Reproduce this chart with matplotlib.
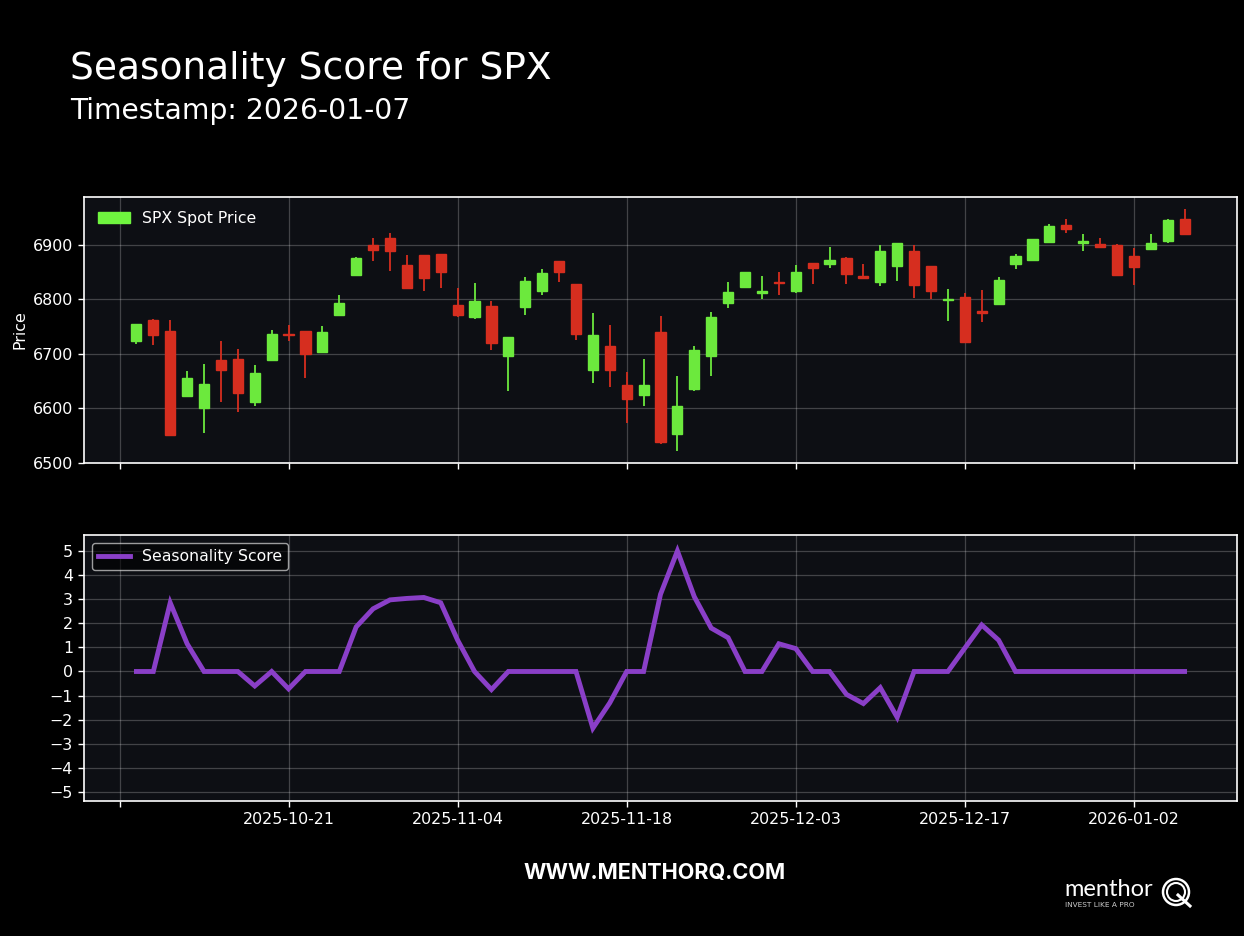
#!/usr/bin/env python
import numpy as np
from matplotlib import pyplot as plt
from matplotlib.lines import Line2D
from matplotlib.patches import Circle

opens = [6722.6, 6761.6, 6741, 6622, 6601, 6689, 6690, 6611.6, 6689, 6737,
         6742, 6702.5, 6771, 6844.5, 6899, 6912, 6861.6, 6880, 6882, 6790,
         6768, 6788, 6695, 6785, 6815, 6869, 6827.4, 6671, 6714, 6642,
         6624, 6739, 6554, 6636, 6696, 6793, 6822, 6811.6, 6830.5, 6815,
         6867, 6865, 6875.6, 6842, 6832, 6861, 6888, 6861, 6798.8, 6803.6,
         6778, 6792, 6864, 6872, 6904, 6936.6, 6902, 6900.6, 6899, 6879,
         6891.5, 6907, 6946]
closes = [6755, 6734.8, 6552, 6655.5, 6644.5, 6669.5, 6628, 6665, 6736, 6735,
          6699, 6739, 6792.7, 6875.6, 6890, 6889, 6821, 6839, 6850.6, 6771,
          6797, 6719.5, 6730, 6833.5, 6847, 6850, 6736.6, 6735, 6671, 6617,
          6643, 6538, 6604, 6706, 6767, 6813.4, 6849, 6814, 6829, 6850,
          6857, 6871, 6846, 6839, 6888, 6902, 6826, 6815, 6801, 6721,
          6775, 6835, 6879, 6910, 6933, 6929, 6906, 6896, 6844.5, 6858,
          6903, 6945, 6920]
highs = [6755, 6764, 6762, 6668, 6680.5, 6724, 6708.5, 6679, 6744, 6752,
         6742, 6750, 6807, 6877, 6911.6, 6921, 6880, 6880, 6882, 6819.5,
         6830, 6796, 6730, 6841, 6855, 6869, 6827.4, 6774, 6753, 6666.5,
         6690, 6770, 6660, 6715, 6777, 6830.5, 6849, 6843, 6850.6, 6861.6,
         6867, 6896, 6878, 6865, 6900, 6903, 6899.4, 6861, 6819, 6811.6,
         6816, 6840, 6882, 6910, 6937, 6946, 6920, 6912, 6900.6, 6894.5,
         6920, 6947, 6965]
lows = [6718, 6716.5, 6552, 6621, 6555, 6611, 6593, 6604, 6689, 6722.5,
        6655.5, 6700.6, 6771, 6843, 6870, 6852, 6820, 6815, 6820, 6767,
        6763, 6707, 6632, 6771, 6807, 6830.5, 6725.6, 6647, 6639, 6574,
        6604, 6535, 6522, 6631, 6660, 6784, 6819.5, 6800, 6807, 6811,
        6827, 6857, 6827, 6839, 6824, 6833, 6802, 6800.6, 6760, 6721,
        6759, 6792, 6856, 6869.5, 6904, 6922, 6889, 6893, 6844.5, 6825,
        6891.5, 6903.6, 6919]
score = [0, 0, 2.85, 1.15, 0, 0, 0, -0.6, 0, -0.72,
         0, 0, 0, 1.85, 2.6, 2.97, 3.03, 3.07, 2.85, 1.3,
         0, -0.75, 0, 0, 0, 0, 0, -2.35, -1.3, 0,
         0, 3.2, 5.0, 3.1, 1.8, 1.4, 0, 0, 1.15, 0.95,
         0, 0, -0.95, -1.33, -0.67, -1.9, 0, 0, 0, 0.97,
         1.93, 1.3, 0, 0, 0, 0, 0, 0, 0, 0,
         0, 0, 0]
tick_labels = ['', '2025-10-21', '2025-11-04', '2025-11-18', '2025-12-03', '2025-12-17', '2026-01-02']
tick_index = [0, 10, 20, 30, 40, 50, 60]
price_ticks = [6500, 6600, 6700, 6800, 6900]
score_ticks = [-5, -4, -3, -2, -1, 0, 1, 2, 3, 4, 5]

GREEN = '#6ce93d'
RED = '#d62e1f'
PANEL = '#0d0f14'
PURPLE = '#8a3fc8'
W, H = 1244, 936


def px_box(left, top, right, bottom):
    # pixel box measured from the top left, to figure fractions
    return [left / W, 1 - bottom / H, (right - left) / W, (bottom - top) / H]


def style_axes(ax):
    ax.set_facecolor(PANEL)
    ax.grid(True, color='white', alpha=0.22, linewidth=0.9)
    ax.set_axisbelow(True)
    ax.tick_params(colors='white', labelsize=11.4, length=4.5, width=1)
    for spine in ax.spines.values():
        spine.set_color('white')
        spine.set_linewidth(1.2)


def draw_candles(ax, x):
    op, cl = np.array(opens), np.array(closes)
    colors = [GREEN if c >= o else RED for o, c in zip(op, cl)]
    ax.vlines(x, lows, highs, colors=colors, linewidth=1.3, zorder=2)
    ax.bar(x, np.abs(cl - op), bottom=np.minimum(op, cl), width=0.6,
           color=colors, edgecolor=colors, linewidth=1.0, zorder=3)


x = np.arange(1, len(opens) + 1)

fig = plt.figure(figsize=(W / 100, H / 100), dpi=100, facecolor='black')
ax1 = fig.add_axes(px_box(84, 197, 1237, 463))
ax2 = fig.add_axes(px_box(84, 535, 1237, 801), sharex=ax1)
style_axes(ax1)
style_axes(ax2)

draw_candles(ax1, x)
ax1.set_ylim(6500, 6987)
ax1.set_yticks(price_ticks)
ax1.set_ylabel('Price', color='white', fontsize=11.4, labelpad=4)
ax1.tick_params(labelbottom=False)
legend1 = ax1.legend(handles=[plt.Rectangle((0, 0), 1, 1, color='#6ff53f')],
                     labels=['SPX Spot Price'], loc='upper left', frameon=False,
                     fontsize=11.3)
for text in legend1.get_texts():
    text.set_color('white')

ax2.plot(x, score, color=PURPLE, linewidth=3.5, solid_joinstyle='miter', zorder=3)
ax2.set_ylim(-5.37, 5.66)
ax2.set_yticks(score_ticks)
ax2.set_xticks(tick_index)
ax2.set_xticklabels(tick_labels)
ax2.set_xlim(-2.1, 66.1)
legend2 = ax2.legend(handles=[Line2D([0], [0], color=PURPLE, linewidth=3.5)],
                     labels=['Seasonality Score'], loc='upper left', fontsize=11.3,
                     facecolor='black', edgecolor='white', framealpha=0.6)
for text in legend2.get_texts():
    text.set_color('white')

fig.text(70 / W, 1 - 69 / H, 'Seasonality Score for SPX', color='white', fontsize=27, va='center')
fig.text(70 / W, 1 - 111 / H, 'Timestamp: 2026-01-07', color='white', fontsize=20.3, va='center')
fig.text(655 / W, 1 - 873 / H, 'WWW.MENTHORQ.COM', color='white', fontsize=15.6, fontweight='bold',
         family='Inter', ha='center', va='center')

# logo in the lower right corner
fig.text(1064 / W, 1 - 890 / H, 'menthor', color='white', fontsize=17, family='Lato', va='center')
fig.text(1065 / W, 1 - 905 / H, 'INVEST LIKE A PRO', color='#cccccc', fontsize=5.3, va='center')
logo = fig.add_axes([0, 0, 1, 1], facecolor='none')
logo.set_xlim(0, W)
logo.set_ylim(H, 0)
logo.axis('off')
logo.add_patch(Circle((1176, 892), 13, fill=False, edgecolor='white', linewidth=1.8))
logo.add_patch(Circle((1176, 892), 9, fill=False, edgecolor='white', linewidth=1.5))
logo.plot([1178, 1190], [895, 906], color='white', linewidth=2.2)

fig.savefig('out.png', dpi=100, facecolor='black')
